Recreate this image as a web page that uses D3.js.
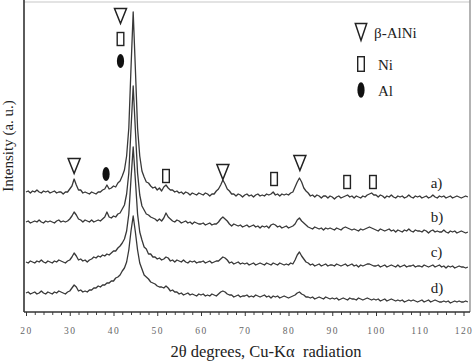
<!DOCTYPE html>
<html><head><meta charset="utf-8">
<script src="https://cdn.jsdelivr.net/npm/d3@7"></script>
<style>html,body{margin:0;padding:0;background:#fff;} svg{display:block;}</style>
</head><body>
<svg id="chart" width="474" height="364"></svg>
<script>
// 2-theta sampling of the four patterns (degrees)
const angleStart = 20, angleStep = 0.5;
// Intensities (a.u., already stacked as in the figure), one value per 0.5 deg from 20 to 121
const traceA = [
120,121,119,121,120,122,120,119,121,120, 121,119,120,121,119,120,120,118,120,120,
123,126,133,127,122,122,119,120,119,118, 120,119,118,120,120,122,123,127,123,124,
126,125,129,131,136,142,156,184,244,300, 243,184,156,141,135,130,129,126,124,125,
122,124,121,125,127,124,122,122,120,121, 119,120,118,120,119,117,119,118,117,119,
118,117,119,118,116,118,118,121,123,127, 132,128,123,121,118,118,116,118,117,115,
117,118,116,117,115,117,118,116,117,116, 118,117,118,120,117,118,116,118,117,118,
117,119,120,125,130,134,130,124,121,119, 116,117,115,117,116,114,116,116,114,116,
115,113,115,116,114,115,116,117,115,116, 114,116,115,114,116,115,117,118,119,117,
117,115,117,116,114,116,115,117,115,114, 116,115,116,114,115,117,115,114,116,115,
116,114,115,116,114,115,117,115,114,116, 115,116,114,115,116,114,115,116,115,114,
115,116,115];
const traceB = [
90,91,89,90,91,90,92,90,89,91, 90,91,90,89,91,92,90,91,90,91,
93,96,100,97,93,92,90,92,91,90, 92,90,91,92,91,93,95,100,95,94,
96,95,98,99,103,107,118,139,183,226, 182,139,117,106,102,98,97,95,94,93,
91,93,91,94,99,95,93,91,90,92, 91,89,90,91,89,90,88,90,89,88,
88,89,87,88,89,87,88,88,90,93, 95,93,91,88,86,88,87,86,87,85,
86,87,85,86,87,85,86,84,86,85, 86,84,87,88,87,85,86,84,85,86,
84,85,86,88,92,94,91,89,87,85, 84,83,85,84,83,84,82,84,83,84,
83,82,84,83,82,84,85,84,83,82, 83,82,81,83,82,83,84,85,84,83,
82,81,83,82,81,82,83,81,82,80, 82,81,80,82,81,83,81,80,82,81,
81,80,82,81,79,81,82,80,81,80, 80,82,80,79,81,80,81,79,80,81,
80,79,80];
const traceC = [
50,49,51,50,49,51,50,52,50,49, 51,50,49,51,50,52,51,50,49,51,
52,55,59,56,52,53,51,52,50,52, 53,55,54,56,55,57,56,58,57,59,
61,61,64,66,69,73,81,98,133,165, 132,98,80,72,65,63,58,58,55,55,
53,54,52,53,55,54,51,52,50,52, 51,50,52,50,49,51,50,51,49,50,
50,51,49,50,51,49,50,51,51,53, 55,54,52,49,50,48,49,50,48,49,
48,49,47,48,49,47,48,49,48,47, 49,48,47,49,48,47,49,48,47,48,
47,49,48,52,57,60,56,53,50,49, 47,48,46,47,48,46,47,48,46,47,
47,46,48,47,46,47,48,46,47,48, 46,47,45,47,46,47,48,48,47,46,
46,47,45,46,47,45,46,47,46,45, 47,45,46,47,45,46,46,47,45,46,
46,45,47,46,45,46,47,45,46,47, 45,46,44,46,45,46,44,45,46,45,
45,44,45];
const traceD = [
19,20,18,19,20,18,19,21,19,18, 20,19,18,20,19,21,20,19,18,20,
21,24,27,25,21,22,20,21,20,22, 22,24,24,26,25,27,27,29,29,31,
31,34,35,37,41,44,50,62,81,96, 80,62,49,43,37,35,33,30,29,28,
26,25,25,24,26,24,21,22,20,20, 18,19,17,18,19,17,18,17,16,18,
17,18,16,17,16,18,17,16,18,20, 21,20,18,17,17,15,16,17,15,16,
16,17,15,16,15,17,16,15,16,17, 15,16,14,16,15,16,14,15,16,15,
14,15,16,17,19,20,18,17,15,15, 14,15,13,14,15,14,13,15,14,13,
14,13,14,12,13,14,13,12,14,13, 13,12,14,13,12,13,14,13,12,13,
12,13,11,12,13,11,12,13,12,11, 12,11,12,10,11,12,11,12,11,10,
11,12,10,11,12,10,11,12,11,10, 10,11,10,11,9,10,11,10,11,10,
10,11,10];
const sampleNames = ["a)", "b)", "c)", "d)"];
const tickLabels = [20, 30, 40, 50, 60, 70, 80, 90, 100, 110, 120];
const minorTicks = [22,24,26,28,32,34,36,38,42,44,46,48,52,54,56,58,62,64,66,68,72,74,76,78,82,84,86,88,92,94,96,98,102,104,106,108,112,114,116,118];
// Phase markers: phase, 2-theta, level (a.u.)
const phaseNames = ["β-AlNi", "Ni", "Al"];
const markerPhase = ["β-AlNi","Ni","Al","β-AlNi","Al","Ni","β-AlNi","Ni","β-AlNi","Ni","Ni"];
const markerAngle = [41.6, 41.6, 41.6, 31, 38.3, 52, 65, 76.7, 82.6, 93.4, 99.3];
const markerLevel = [296, 273, 251, 146, 138, 136, 140, 133, 149, 130, 130];

const traces = [traceA, traceB, traceC, traceD];
const svg = d3.select("#chart");
const serif = "'Liberation Serif','Times New Roman',serif";
const x = d3.scaleLinear().domain([20, 120]).range([26, 463.5]);
const y = d3.scaleLinear().domain([0, 310]).range([312, 2]);
const L = 24, R = 470, T = 2, B = 312;

// frame
svg.append("line").attr("x1", L).attr("x2", R).attr("y1", T).attr("y2", T).attr("stroke", "#c8c8c8").attr("stroke-width", 1.2);
svg.append("line").attr("x1", R).attr("x2", R).attr("y1", 0).attr("y2", B).attr("stroke", "#9a9a9a").attr("stroke-width", 1.5);
svg.append("line").attr("x1", L).attr("x2", L).attr("y1", 0).attr("y2", B).attr("stroke", "#333").attr("stroke-width", 1.6);

// axis
const minorAxis = d3.axisBottom(x).tickValues(minorTicks).tickSize(3).tickFormat("");
const gMinor = svg.append("g").attr("transform", `translate(0,${B})`).call(minorAxis);
gMinor.select(".domain").remove();
gMinor.selectAll("line").attr("stroke", "#444");
const majorAxis = d3.axisBottom(x).tickValues(tickLabels).tickSize(4).tickPadding(11).tickFormat(d3.format("d"));
const gMajor = svg.append("g").attr("transform", `translate(0,${B})`).call(majorAxis);
gMajor.select(".domain").remove();
gMajor.selectAll("line").attr("stroke", "#333");
gMajor.selectAll("text").attr("font-family", serif).attr("font-size", 9.5).attr("fill", "#666").attr("letter-spacing", "1.4px");
svg.append("line").attr("x1", L).attr("x2", R).attr("y1", B).attr("y2", B).attr("stroke", "#333").attr("stroke-width", 1.6);

// traces
const line = d3.line().x((d, i) => x(angleStart + i * angleStep)).y(d => y(d));
svg.append("g").selectAll("path").data(traces).join("path")
  .attr("d", line).attr("fill", "none").attr("stroke", "#383838").attr("stroke-width", 1.3).attr("stroke-linejoin", "round");

// sample labels
svg.append("g").selectAll("text").data(traces).join("text")
  .attr("x", x(112.5)).attr("y", d => y(d[Math.round((112.5 - angleStart) / angleStep)]) - 14)
  .attr("dy", "0.35em").attr("font-family", serif).attr("font-size", 15).attr("fill", "#222")
  .text((d, i) => sampleNames[i]);

// marker drawing
function drawMarker(g, phase, cx, cy, big) {
  const s = big ? 1.12 : 1;
  if (phase === "β-AlNi") {
    const w = 6 * (big ? 0.95 : 1), h = 7.5 * s;
    g.append("path").attr("d", `M${cx - w},${cy - h}L${cx + w},${cy - h}L${cx},${cy + h}Z`)
      .attr("fill", "#fff").attr("stroke", "#222").attr("stroke-width", 1.5).attr("stroke-linejoin", "miter");
  } else if (phase === "Ni") {
    g.append("rect").attr("x", cx - 3.3).attr("y", cy - 6.5 * s).attr("width", 6.6).attr("height", 13 * s)
      .attr("fill", "#fff").attr("stroke", "#222").attr("stroke-width", 1.4);
  } else {
    g.append("ellipse").attr("cx", cx).attr("cy", cy).attr("rx", 3.6).attr("ry", 7 * s).attr("fill", "#111");
  }
}
const gm = svg.append("g");
markerPhase.forEach((p, i) => drawMarker(gm, p, x(markerAngle[i]), y(markerLevel[i]), false));

// legend
const lg = svg.append("g");
const legendY = [32, 64, 90];
phaseNames.forEach((p, i) => {
  drawMarker(lg, p, 361, legendY[i], true);
  lg.append("text").attr("x", i === 0 ? 374 : 378).attr("y", legendY[i] + 1).attr("dy", "0.35em")
    .attr("font-family", serif).attr("font-size", 15).attr("fill", "#222").text(p);
});

// axis titles
svg.append("text").attr("x", 266).attr("y", 357).attr("text-anchor", "middle")
  .attr("font-family", serif).attr("font-size", 16.5).attr("fill", "#222").text("2θ degrees, Cu-Kα  radiation").style("white-space", "pre");
svg.append("text").attr("transform", "translate(13,146) rotate(-90)").attr("text-anchor", "middle")
  .attr("font-family", serif).attr("font-size", 15).attr("fill", "#222").text("Intensity (a. u.)");
</script>
</body></html>
